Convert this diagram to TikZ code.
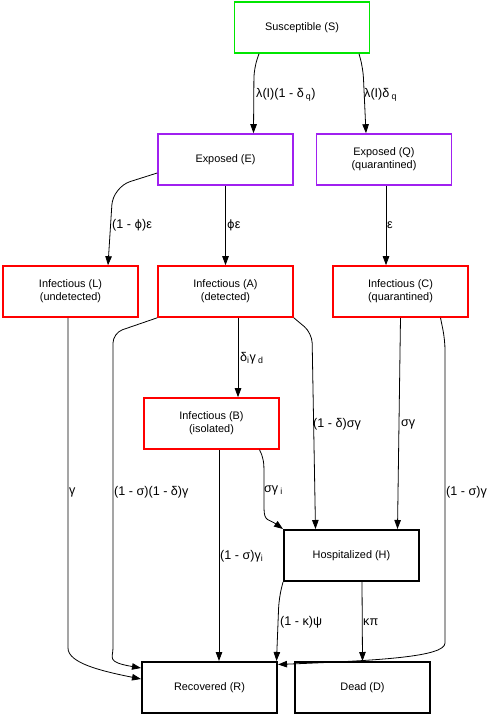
\documentclass[tikz,border=0pt]{standalone}
\usepackage{fontspec}
\setmainfont{Liberation Sans}
\newfontfamily\greekfont{DejaVu Sans}
\usetikzlibrary{arrows.meta,positioning,calc}

\definecolor{susgreen}{RGB}{0,230,0}
\definecolor{exppurple}{RGB}{160,32,240}
\definecolor{infred}{RGB}{255,0,0}

\newcommand{\lowsub}[1]{\textsubscript{#1}}
\newcommand{\phisym}{{\greekfont\fontsize{11.5}{13}\selectfont ϕ}}

\tikzset{
  box/.style={draw, line width=1.6pt, minimum width=135pt, minimum height=51pt,
    inner sep=0pt, align=center, font=\fontsize{10.9}{13}\selectfont},
  flow/.style={-{Triangle[length=9pt,width=6.5pt]}, line width=0.8pt, rounded corners=10pt},
  rate/.style={anchor=west, inner sep=1pt, font=\fontsize{12.6}{14}\selectfont},
}

\begin{document}
\begin{tikzpicture}[x=1pt, y=-1pt]
    \useasboundingbox (0,0) rectangle (491,716);

    % Compartments
    \node[box, draw=susgreen] (S) at (302,27.5) {Susceptible (S)};
    \node[box, draw=exppurple] (E) at (225.5,159.5) {Exposed (E)};
    \node[box, draw=exppurple] (Q) at (384,159.5) {Exposed (Q)\\(quarantined)};
    \node[box, draw=infred] (L) at (70.5,291.5) {Infectious (L)\\(undetected)};
    \node[box, draw=infred] (A) at (225.5,291.5) {Infectious (A)\\(detected)};
    \node[box, draw=infred] (C) at (400.5,291.5) {Infectious (C)\\(quarantined)};
    \node[box, draw=infred] (B) at (211.5,423.5) {Infectious (B)\\(isolated)};
    \node[box, line width=2pt] (H) at (351.5,555.5) {Hospitalized (H)};
    \node[box, line width=2pt] (R) at (209.5,687.5) {Recovered (R)};
    \node[box, line width=2pt] (D) at (362.5,687.5) {Dead (D)};

    % Infection
    \draw[flow] ([xshift=-43pt]S.south) -- (254,68) -- ([xshift=28pt]E.north);
    \draw[flow] ([xshift=57pt]S.south) -- (363,68) -- ([xshift=-18pt]Q.north);
    \node[rate] (lSE) at (255,95) {λ(I)(1 - δ\,\lowsub{q})};
    \node[rate] (lSQ) at (363,95) {λ(I)δ\,\lowsub{q}};

    % Incubation
    \draw[flow, rounded corners=18pt] ([yshift=-13.5pt]E.west) -- (113,187) -- ([xshift=37.5pt]L.north);
    \draw[flow] (E) -- (A);
    \draw[flow] ([xshift=2pt]Q.south) -- ([xshift=-14.5pt]C.north);
    \node[rate] (lEL) at (111,225) {(1 - \phisym)ε};
    \node[rate] (lEA) at (226,225) {\phisym ε};
    \node[rate] (lQC) at (386,225) {ε};

    % Detection and hospitalization
    \draw[flow] ([xshift=12.5pt]A.south) -- ([xshift=26.5pt]B.north);
    \draw[flow] (A.south east) -- (312,333) -- ([xshift=-36pt]H.north);
    \draw[flow] (C.south) -- ([xshift=46pt]H.north);
    \draw[flow, sharp corners] ([xshift=48pt]B.south) .. controls +(4,8) and +(0,-12) .. (264,474)
        -- (264,508) .. controls +(0,14) and +(-14,-10) .. (H.north west);
    \node[rate] (lAB) at (239,358) {δ\lowsub{i}γ\,\lowsub{d}};
    \node[rate] (lAH) at (312,424) {(1 - δ)σγ};
    \node[rate] (lCH) at (400,424) {σγ};
    \node[rate] (lBH) at (263,490) {σγ\,\lowsub{i}};

    % Recovery
    \draw[flow] ([xshift=-2.5pt]L.south) -- (68,638)
        .. controls +(0,25) and +(-40,-8) .. ([yshift=8.5pt]R.west);
    \draw[flow] (A.south west) -- (113,333) -- (113,638)
        .. controls +(0,20) and +(-35,-6) .. ([yshift=19.5pt]R.west);
    \draw[flow] ([xshift=7.5pt]B.south) -- ([xshift=9.5pt]R.north);
    \draw[flow] ([xshift=40pt]C.south) -- (445,340) -- (445,633)
        .. controls +(0,24) and +(100,-4) .. ([yshift=23pt]R.east);
    \draw[flow] (H.south west) -- (279,598) -- ([xshift=-1.5pt]R.north east);
    \node[rate] (lLR) at (68,492) {γ};
    \node[rate] (lAR) at (113,492) {(1 - σ)(1 - δ)γ};
    \node[rate] (lCR) at (445,492) {(1 - σ)γ};
    \node[rate] (lBR) at (219,556) {(1 - σ)γ\lowsub{i}};
    \node[rate] (lHR) at (279,622) {(1 - κ)ψ};

    % Death
    \draw[flow] ([xshift=10.5pt]H.south) -- (D.north);
    \node[rate] (lHD) at (362,622) {κπ};
\end{tikzpicture}
\end{document}
